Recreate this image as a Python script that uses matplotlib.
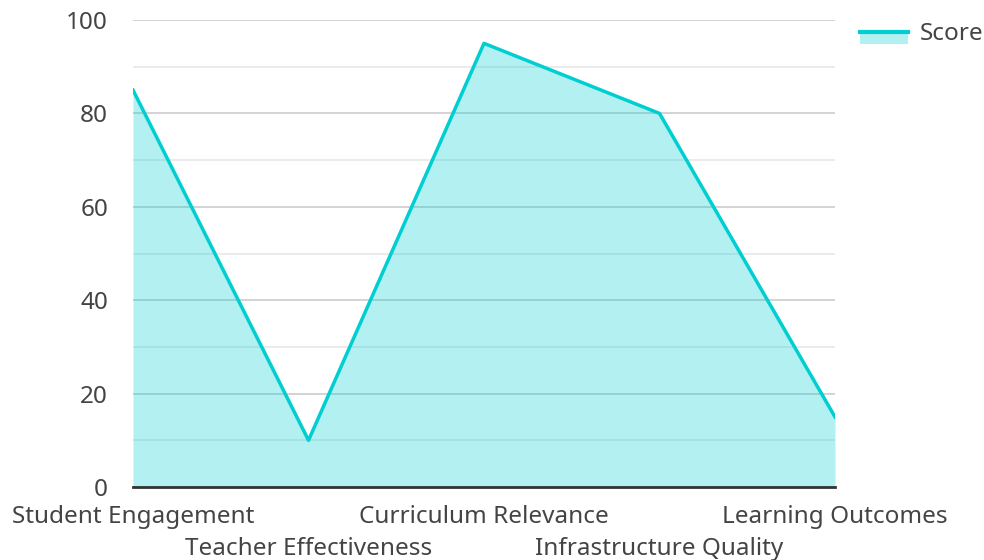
import matplotlib
matplotlib.use("Agg")
import matplotlib.pyplot as plt
from matplotlib.legend_handler import HandlerBase
from matplotlib.patches import Rectangle
from matplotlib.lines import Line2D

categories = ["Student Engagement", "Teacher Effectiveness", "Curriculum Relevance",
              "Infrastructure Quality", "Learning Outcomes"]
scores = [85, 10, 95, 80, 15]
series_name = "Score"

plt.rcParams['font.family'] = ['Noto Sans', 'DejaVu Sans']
color = "#00CED1"
text_color = "#444444"
fs = 17.5

fig = plt.figure(figsize=(9.84, 5.6), dpi=100)
ax = fig.add_axes([133/984, 1-487/560, (835-133)/984, (487-20)/560])

x = list(range(len(categories)))
ax.fill_between(x, scores, 0, color=color, alpha=0.3, linewidth=0, zorder=2)
ax.plot(x, scores, color=color, linewidth=2.5, zorder=3)

ax.set_xlim(0, len(categories) - 1)
ax.set_ylim(0, 100)
ax.set_yticks(range(0, 101, 20))
ax.set_yticks(range(10, 100, 20), minor=True)
ax.grid(True, axis='y', which='major', color='#cccccc', linewidth=1.2, zorder=1)
ax.grid(True, axis='y', which='minor', color='#e8e8e8', linewidth=1.2, zorder=1)
ax.set_axisbelow(True)
ax.set_xticks(x)
ax.set_xticklabels(categories)
ax.tick_params(axis='both', which='both', length=0, labelsize=fs, labelcolor=text_color)
ax.tick_params(axis='y', pad=18)
ax.tick_params(axis='x', pad=13)
for i, t in enumerate(ax.xaxis.get_major_ticks()):
    if i % 2 == 1:
        t.set_pad(36)
for s in ['top', 'right', 'left']:
    ax.spines[s].set_visible(False)
ax.spines['bottom'].set_color('#333333')
ax.spines['bottom'].set_linewidth(2)
ax.spines['bottom'].set_zorder(4)


class AreaHandler(HandlerBase):
    def create_artists(self, legend, orig_handle, xdescent, ydescent, width, height, fontsize, trans):
        r = Rectangle((-xdescent, -ydescent - height * 0.25), width, height * 0.7, facecolor=color,
                      alpha=0.3, transform=trans, linewidth=0)
        l = Line2D([-xdescent, -xdescent + width], [-ydescent + height * 0.45] * 2, color=color,
                   linewidth=3, transform=trans)
        return [r, l]


handle = Rectangle((0, 0), 1, 1)
leg = fig.legend([handle], [series_name], handler_map={Rectangle: AreaHandler()},
                 loc='upper right', bbox_to_anchor=(983/984, 1-22/560), frameon=False,
                 fontsize=fs, handlelength=2.0, handleheight=0.7, handletextpad=0.45,
                 labelcolor=text_color, borderaxespad=0, borderpad=0.0)

fig.savefig("out.png", dpi=100)
